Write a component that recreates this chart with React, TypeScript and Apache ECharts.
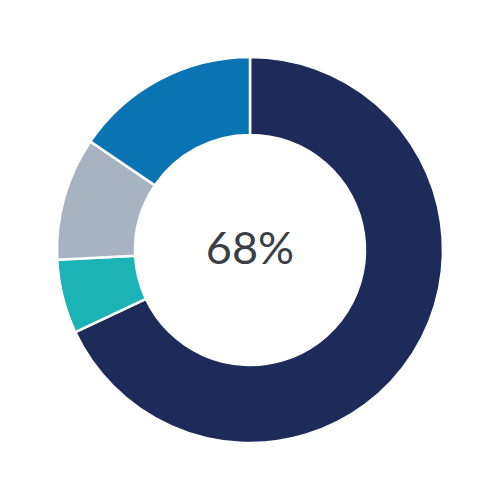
import { useEffect, useRef } from 'react'
import * as echarts from 'echarts'

const segmentNames = ['Navy', 'Teal', 'Grey', 'Blue']
const segmentValues = [68, 6.2, 10.3, 15.5]
const segmentColors = ['#1c2b5a', '#1bb3b5', '#a8b3c2', '#0a73b2']
const centerLabel = '68%'

export default function App() {
  const chartRef = useRef<HTMLDivElement | null>(null)

  useEffect(() => {
    document.body.style.margin = '0'
    if (!chartRef.current) {
      return undefined
    }

    const chart = echarts.init(chartRef.current, undefined, { renderer: 'svg' })

    chart.setOption({
      animation: false,
      backgroundColor: '#ffffff',
      graphic: [
        {
          type: 'text',
          x: 250,
          y: 247,
          silent: true,
          style: {
            text: centerLabel,
            align: 'center',
            verticalAlign: 'middle',
            fontFamily: 'Lato',
            fontWeight: 400,
            fontSize: 45,
            fill: '#3b3f45',
          },
        },
      ],
      series: [
        {
          type: 'pie',
          center: ['50%', '50%'],
          radius: [115, 193],
          startAngle: 90,
          clockwise: true,
          label: { show: false },
          labelLine: { show: false },
          silent: true,
          itemStyle: {
            borderColor: '#ffffff',
            borderWidth: 2.5,
          },
          data: segmentNames.map((name, index) => ({
            name,
            value: segmentValues[index],
            itemStyle: { color: segmentColors[index] },
          })),
        },
      ],
    })

    return () => {
      chart.dispose()
    }
  }, [])

  return <div ref={chartRef} style={{ width: 500, height: 500 }} />
}
